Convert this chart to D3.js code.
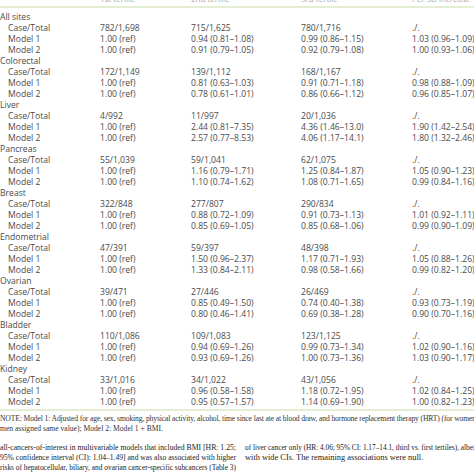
<!DOCTYPE html>
<html><head><meta charset="utf-8">
<script src="https://cdn.jsdelivr.net/npm/d3@7"></script>
<style>body{margin:0;background:#fff}svg{display:block}</style>
</head><body><svg id="c" width="474" height="474"></svg>
<script>
'use strict'

const headers = ['', '1st tertile', '2nd tertile', '3rd tertile', 'Per SD increase'];
const sites = ['All sites', 'Colorectal', 'Liver', 'Pancreas', 'Breast', 'Endometrial', 'Ovarian', 'Bladder', 'Kidney'];
const caseTotal = [
	['782/1,698', '715/1,625', '780/1,716'],
	['172/1,149', '139/1,112', '168/1,167'],
	['4/992', '11/997', '20/1,036'],
	['55/1,039', '59/1,041', '62/1,075'],
	['322/848', '277/807', '290/834'],
	['47/391', '59/397', '48/398'],
	['39/471', '27/446', '26/469'],
	['110/1,086', '109/1,083', '123/1,125'],
	['33/1,016', '34/1,022', '43/1,056']
];
const model1 = [
	['0.94 (0.81–1.08)', '0.99 (0.86–1.15)', '1.03 (0.96–1.09)'],
	['0.81 (0.63–1.03)', '0.91 (0.71–1.18)', '0.98 (0.88–1.09)'],
	['2.44 (0.81–7.35)', '4.36 (1.46–13.0)', '1.90 (1.42–2.54)'],
	['1.16 (0.79–1.71)', '1.25 (0.84–1.87)', '1.05 (0.90–1.23)'],
	['0.88 (0.72–1.09)', '0.91 (0.73–1.13)', '1.01 (0.92–1.11)'],
	['1.50 (0.96–2.37)', '1.17 (0.71–1.93)', '1.05 (0.88–1.26)'],
	['0.85 (0.49–1.50)', '0.74 (0.40–1.38)', '0.93 (0.73–1.19)'],
	['0.94 (0.69–1.26)', '0.99 (0.73–1.34)', '1.02 (0.90–1.16)'],
	['0.96 (0.58–1.58)', '1.18 (0.72–1.95)', '1.02 (0.84–1.25)']
];
const model2 = [
	['0.91 (0.79–1.05)', '0.92 (0.79–1.08)', '1.00 (0.93–1.06)'],
	['0.78 (0.61–1.01)', '0.86 (0.66–1.12)', '0.96 (0.85–1.07)'],
	['2.57 (0.77–8.53)', '4.06 (1.17–14.1)', '1.80 (1.32–2.46)'],
	['1.10 (0.74–1.62)', '1.08 (0.71–1.65)', '0.99 (0.84–1.16)'],
	['0.85 (0.69–1.05)', '0.85 (0.68–1.06)', '0.99 (0.90–1.09)'],
	['1.33 (0.84–2.11)', '0.98 (0.58–1.66)', '0.99 (0.82–1.20)'],
	['0.80 (0.46–1.41)', '0.69 (0.38–1.28)', '0.90 (0.70–1.16)'],
	['0.93 (0.69–1.26)', '1.00 (0.73–1.36)', '1.03 (0.90–1.17)'],
	['0.95 (0.57–1.57)', '1.14 (0.69–1.90)', '1.00 (0.82–1.23)']
];
const noteLines = [
	'NOTE: Model 1: Adjusted for age, sex, smoking, physical activity, alcohol, time since last ate at blood draw, and hormone replacement therapy (HRT) (for women;',
	'men assigned same value); Model 2: Model 1 + BMI.'
];
const bodyLeft = [
	'all-cancers-of-interest in multivariable models that included BMI [HR: 1.25;',
	'95% confidence interval (CI): 1.04–1.49] and was also associated with higher',
	'risks of hepatocellular, biliary, and ovarian cancer-specific subcancers (Table 3)'
];
const bodyRight = [
	'of liver cancer only (HR: 4.06; 95% CI: 1.17–14.1, third vs. first tertiles), albeit',
	'with wide CIs. The remaining associations were null.'
];

// flatten into rows
var rows = [];
sites.forEach(function(s, i) {
	rows.push({label: s, group: true, cells: []});
	rows.push({label: 'Case/Total', cells: caseTotal[i].concat(['./.'])});
	rows.push({label: 'Model 1', cells: ['1.00 (ref)'].concat(model1[i])});
	rows.push({label: 'Model 2', cells: ['1.00 (ref)'].concat(model2[i])});
});

var svg = d3.select('#c');
var y = d3.scaleLinear().domain([0, rows.length - 1]).range([19.5, 404.5]);
var colX = [8, 100, 191, 301, 412];
var grey = '#4a4a4a';

svg.selectAll('text.h').data(headers.slice(1)).enter().append('text')
	.attr('class', 'h').attr('x', function(d, i) { return colX[i + 1]; }).attr('y', 2)
	.attr('fill', '#aaa').attr('font-size', 8).attr('font-family', 'Open Sans, sans-serif').text(function(d) { return d; });

svg.append('line').attr('x1', 0).attr('x2', 474).attr('y1', 7).attr('y2', 7).attr('stroke', '#dbe9c4').attr('stroke-width', 1.5);
svg.append('line').attr('x1', 0).attr('x2', 474).attr('y1', 410).attr('y2', 410).attr('stroke', '#dbe9c4').attr('stroke-width', 1.5);

var g = svg.selectAll('g.row').data(rows).enter().append('g')
	.attr('transform', function(d, i) { return 'translate(0,' + y(i) + ')'; })
	.attr('font-family', 'Open Sans, sans-serif').attr('font-size', 8.6).attr('fill', grey);

g.append('text').attr('x', function(d) { return d.group ? 0 : colX[0]; }).text(function(d) { return d.label; });
g.selectAll('text.v').data(function(d) { return d.cells; }).enter().append('text')
	.attr('class', 'v').attr('x', function(d, i) { return colX[i + 1]; }).text(function(d) { return d; });

svg.selectAll('text.note').data(noteLines).enter().append('text')
	.attr('x', 0).attr('y', function(d, i) { return 421 + i * 10; })
	.attr('font-family', 'Liberation Serif, serif').attr('font-size', 7.6).attr('fill', '#333')
	.attr('textLength', function(d, i) { return i === 0 ? 478 : null; })
	.text(function(d) { return d; });

svg.selectAll('text.bl').data(bodyLeft).enter().append('text')
	.attr('x', 0).attr('y', function(d, i) { return 450 + i * 10; })
	.attr('font-family', 'Liberation Serif, serif').attr('font-size', 8.4).attr('fill', '#222')
	.attr('textLength', 236).attr('lengthAdjust', 'spacingAndGlyphs')
	.text(function(d) { return d; });
svg.selectAll('text.br').data(bodyRight).enter().append('text')
	.attr('x', 245).attr('y', function(d, i) { return 450 + i * 10; })
	.attr('font-family', 'Liberation Serif, serif').attr('font-size', 8.4).attr('fill', '#222')
	.attr('textLength', function(d, i) { return i === 0 ? 232 : null; })
	.attr('lengthAdjust', 'spacingAndGlyphs')
	.text(function(d) { return d; });
</script></body></html>
